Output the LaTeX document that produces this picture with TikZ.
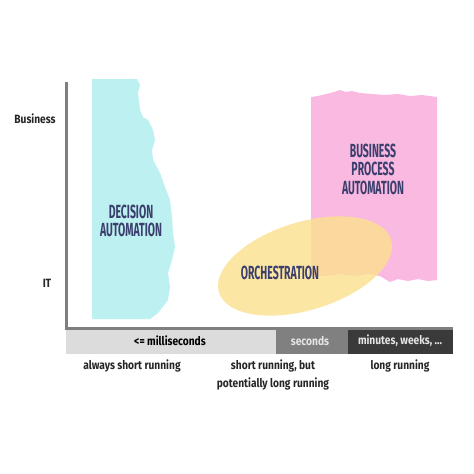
\documentclass[tikz,border=0pt]{standalone}
\usepackage{fontspec}
\setmainfont{Fira Sans}
\newfontfamily\titlefont[FakeStretch=0.55]{Fira Sans}
\newfontfamily\handfont[FakeStretch=0.85]{Fira Sans}
\definecolor{cyanbg}{HTML}{BDF0F0}
\definecolor{pinkbg}{HTML}{F9B9E1}
\definecolor{yellowbg}{HTML}{FCE08E}
\definecolor{titlecol}{HTML}{3B3F6E}
\definecolor{axiscol}{HTML}{7F7F7F}
\definecolor{barlight}{HTML}{DCDCDC}
\definecolor{barmid}{HTML}{808080}
\definecolor{bardark}{HTML}{3A3A3A}
\tikzset{
  title/.style={font=\titlefont\bfseries\fontsize{19}{18.5}\selectfont, text=titlecol, align=center, inner sep=0pt},
  hand/.style={font=\handfont\bfseries\fontsize{12}{18}\selectfont, text=black!85, align=center, inner sep=0pt},
  barlabel/.style={font=\handfont\bfseries\fontsize{12}{13}\selectfont, inner sep=0pt},
  axisline/.style={draw=axiscol, line width=3pt}
}
\begin{document}
\begin{tikzpicture}[x=1pt,y=-1pt]
\useasboundingbox[fill=white] (0,0) rectangle (474,474);
% cyan torn shape
\fill[cyanbg] (92,79) -- (137,79) -- (140,85) -- (138,93) -- (140,110) -- (143,117) -- (148,120)
  -- (153,130) -- (155,140) -- (152,150) -- (153,160) -- (160,173) -- (165,187) -- (170,200)
  -- (172,217) -- (173,233) -- (175,247) -- (172,260) -- (168,273) -- (170,287) -- (168,300)
  -- (158,313) -- (150,319) -- (92,319) -- cycle;
% pink torn shape
\fill[pinkbg] (311,97) -- (318,96) -- (326,94) -- (334,92) -- (340,90) -- (346,92) -- (352,91)
  -- (360,93) -- (372,94) -- (385,95) -- (398,94) -- (410,96) -- (422,95) -- (437,97)
  -- (437,280) -- (428,281) -- (418,279) -- (408,281) -- (398,279) -- (390,282) -- (380,276)
  -- (368,274) -- (355,276) -- (340,274) -- (325,276) -- (311,275) -- cycle;
% orchestration ellipse
\fill[yellowbg, fill opacity=0.8] (305,266) ellipse[x radius=90, y radius=44, rotate=17];
% axes
\draw[axisline] (66,82) -- (66,328) -- (453,328);
% bar
\fill[barlight] (66,330) rectangle (276,354);
\fill[barmid] (276,330) rectangle (348,354);
\fill[bardark] (348,330) rectangle (453,354);
% texts
\node[title] (dec) at (131,221) {DECISION\\AUTOMATION};
\node[title] (bpa) at (373,169) {BUSINESS\\PROCESS\\AUTOMATION};
\node[title] (orch) at (280,273) {ORCHESTRATION};
\node[hand] (bus) at (35,119) {Business};
\node[hand] (it) at (47,283) {IT};
\node[barlabel, text=black] (ms) at (170,341) {<= milliseconds};
\node[barlabel, text=white!90!black] (sec) at (310,341) {seconds};
\node[barlabel, text=white!90!black] (min) at (400,341) {minutes, weeks, ...};
\node[hand] (asr) at (132,366) {always short running};
\node[hand] (srb) at (273,375) {short running, but\\potentially long running};
\node[hand] (lr) at (400,366) {long running};
\end{tikzpicture}
\end{document}
